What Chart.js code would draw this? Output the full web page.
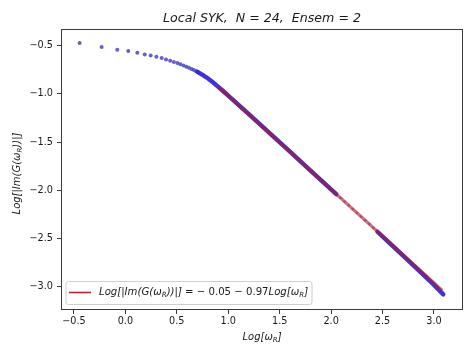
<!DOCTYPE html>
<html>
<head>
<meta charset="utf-8">
<script src="https://cdn.jsdelivr.net/npm/chart.js@4.4.1/dist/chart.umd.min.js"></script>
<style>
  html, body { margin: 0; padding: 0; background: #ffffff; }
  #wrap { width: 474px; height: 355px; }
</style>
</head>
<body>
<div id="wrap"><canvas id="c" width="474" height="355"></canvas></div>
<script>
// ---- data ----
const xTicks = [-0.5, 0.0, 0.5, 1.0, 1.5, 2.0, 2.5, 3.0];
const yTicks = [-3.0, -2.5, -2.0, -1.5, -1.0, -0.5];

// discrete, visibly separated points (low frequencies)
const sparseX = [-0.445, -0.231, -0.079, 0.028, 0.116, 0.188, 0.246, 0.301, 0.353, 0.395,
                 0.435, 0.471, 0.505, 0.535, 0.565, 0.592, 0.618, 0.642, 0.665, 0.687, 0.708];
const sparseY = [-0.472, -0.514, -0.542, -0.555, -0.573, -0.591, -0.601, -0.615, -0.628, -0.643,
                 -0.655, -0.668, -0.680, -0.693, -0.706, -0.718, -0.730, -0.742, -0.753, -0.765, -0.776];

// densely packed points that merge into a band (first stretch)
const dense1X = [0.70, 0.75, 0.80, 0.85, 0.90, 0.95, 1.00, 1.10, 1.20, 1.40, 1.60, 1.80, 2.05];
const dense1Y = [-0.772, -0.803, -0.838, -0.878, -0.925, -0.970, -1.018, -1.113, -1.210, -1.405, -1.600, -1.795, -2.040];

// sparse points in the thinner stretch
const gapX = [2.09, 2.13, 2.17, 2.21, 2.25, 2.29, 2.33, 2.37, 2.41];
const gapY = [-2.078, -2.117, -2.156, -2.195, -2.234, -2.273, -2.312, -2.351, -2.390];

// densely packed points (second stretch)
const dense2X = [2.45, 2.60, 2.80, 3.00, 3.09];
const dense2Y = [-2.430, -2.580, -2.780, -2.982, -3.080];

// fitted line  Log|Im G| = -0.05 - 0.97 Log w
const fitX = [0.90, 3.08];
const fitY = [-0.923, -3.038];

const xRange = [-0.626, 3.282];
const yRange = [-3.242, -0.327];

const pts = (xs, ys) => xs.map((v, i) => ({ x: v, y: ys[i] }));
const fmt = v => (v < 0 ? '\u2212' : '') + Math.abs(v).toFixed(1);

const FONT = '"DejaVu Sans", "Liberation Sans", sans-serif';
const RED = 'rgba(176, 24, 40, 0.62)';
const BLUE = 'rgba(52, 40, 210, 0.95)';

function drawRich(ctx, parts, x, y, size, align) {
  let total = 0;
  const m = parts.map(p => {
    const fs = p.sub ? size * 0.7 : size;
    ctx.font = (p.it ? 'italic ' : '') + fs + 'px ' + FONT;
    const w = ctx.measureText(p.t).width;
    total += w;
    return { fs, w };
  });
  let cx = align === 'center' ? x - total / 2 : x;
  ctx.textBaseline = 'middle';
  ctx.textAlign = 'left';
  parts.forEach((p, i) => {
    ctx.font = (p.it ? 'italic ' : '') + m[i].fs + 'px ' + FONT;
    ctx.fillText(p.t, cx, y + (p.sub ? size * 0.28 : 0));
    cx += m[i].w;
  });
  return total;
}

const extras = {
  id: 'extras',
  afterDraw(chart) {
    const ctx = chart.ctx;
    const a = chart.chartArea;
    ctx.save();
    // frame
    ctx.strokeStyle = '#3a3a3a';
    ctx.lineWidth = 1;
    ctx.strokeRect(Math.round(a.left) + 0.5, Math.round(a.top) + 0.5,
                   Math.round(a.right - a.left) - 1, Math.round(a.bottom - a.top) - 1);
    ctx.fillStyle = '#1a1a1a';
    // x axis title
    drawRich(ctx, [
      { t: 'Log[\u03c9', it: true }, { t: 'R', it: true, sub: true }, { t: ']', it: true }
    ], (a.left + a.right) / 2, 337.5, 10, 'center');
    // y axis title (rotated)
    ctx.save();
    ctx.translate(17, (a.top + a.bottom) / 2 + 4);
    ctx.rotate(-Math.PI / 2);
    drawRich(ctx, [
      { t: 'Log[|Im(G(\u03c9', it: true }, { t: 'R', it: true, sub: true }, { t: '))|]', it: true }
    ], 0, 0, 10, 'center');
    ctx.restore();
    // legend box
    const bx = 66, by = 281.5, bw = 246, bh = 23;
    ctx.beginPath();
    if (ctx.roundRect) ctx.roundRect(bx, by, bw, bh, 2.5); else ctx.rect(bx, by, bw, bh);
    ctx.fillStyle = 'rgba(255,255,255,0.85)';
    ctx.fill();
    ctx.strokeStyle = '#d0d0d0';
    ctx.lineWidth = 1;
    ctx.stroke();
    ctx.beginPath();
    ctx.moveTo(69, 292.5);
    ctx.lineTo(91, 292.5);
    ctx.strokeStyle = 'rgba(176, 24, 40, 0.95)';
    ctx.lineWidth = 1.6;
    ctx.stroke();
    ctx.fillStyle = '#1a1a1a';
    drawRich(ctx, [
      { t: 'Log[|Im(G(\u03c9', it: true }, { t: 'R', it: true, sub: true }, { t: '))|]', it: true },
      { t: ' = \u2212 0.05 \u2212 0.97', it: false },
      { t: 'Log[\u03c9', it: true }, { t: 'R', it: true, sub: true }, { t: ']', it: true }
    ], 99, 292.5, 10.15, 'left');
    ctx.restore();
  }
};

new Chart(document.getElementById('c'), {
  type: 'scatter',
  data: {
    datasets: [
      { label: 'fit', data: pts(fitX, fitY), showLine: true, borderColor: RED, borderWidth: 3.2,
        pointRadius: 0, order: 0 },
      { label: 'dense1', data: pts(dense1X, dense1Y), showLine: true, borderColor: BLUE, borderWidth: 4.4,
        borderCapStyle: 'round', pointRadius: 0, order: 1 },
      { label: 'dense2', data: pts(dense2X, dense2Y), showLine: true, borderColor: BLUE, borderWidth: 4.4,
        borderCapStyle: 'round', pointRadius: 0, order: 1 },
      { label: 'gap', data: pts(gapX, gapY), pointRadius: 1.4, pointBorderWidth: 0,
        backgroundColor: 'rgba(60,60,200,0.45)', order: 2 },
      { label: 'sparse', data: pts(sparseX, sparseY), pointRadius: 2, pointBorderWidth: 0,
        backgroundColor: 'rgba(70,70,190,0.85)', order: 2 }
    ]
  },
  options: {
    responsive: false,
    animation: false,
    devicePixelRatio: 1,
    layout: { padding: { left: 0, right: 11, top: 0, bottom: 0 } },
    plugins: {
      legend: { display: false },
      tooltip: { enabled: false },
      title: {
        display: true,
        fullSize: false,
        text: 'Local SYK,  N = 24,  Ensem = 2',
        color: '#1a1a1a',
        font: { family: FONT, size: 12.6, style: 'italic', weight: 'normal', lineHeight: 1.2 },
        padding: { top: 11, bottom: 2.9 }
      }
    },
    scales: {
      x: {
        type: 'linear', min: xRange[0], max: xRange[1],
        afterFit: s => { s.height = 45; },
        afterBuildTicks: s => { s.ticks = xTicks.map(v => ({ value: v })); },
        grid: { drawOnChartArea: false, drawTicks: true, tickLength: 4, color: '#3a3a3a', lineWidth: 1 },
        border: { display: false },
        ticks: { callback: v => fmt(v), color: '#1a1a1a', padding: 2, maxRotation: 0, autoSkip: false,
                 font: { family: FONT, size: 9.7 } }
      },
      y: {
        type: 'linear', min: yRange[0], max: yRange[1],
        afterFit: s => { s.width = 61; },
        afterBuildTicks: s => { s.ticks = yTicks.map(v => ({ value: v })); },
        grid: { drawOnChartArea: false, drawTicks: true, tickLength: 4, color: '#3a3a3a', lineWidth: 1 },
        border: { display: false },
        ticks: { callback: v => fmt(v), color: '#1a1a1a', padding: 4, autoSkip: false,
                 font: { family: FONT, size: 9.7 } }
      }
    }
  },
  plugins: [extras]
});
</script>
</body>
</html>
